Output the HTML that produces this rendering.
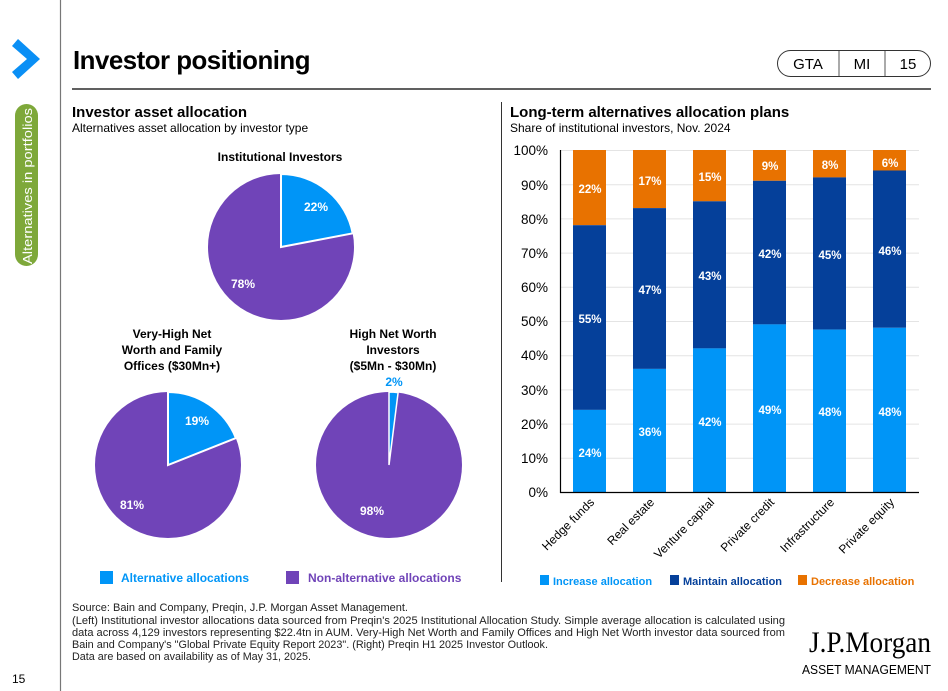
<!DOCTYPE html>
<html><head><meta charset="utf-8"><style>
body{margin:0;width:948px;height:691px;background:#fff;overflow:hidden;font-family:"Liberation Sans",Arial,sans-serif}
svg{display:block}
</style></head><body>
<svg width="948" height="691" viewBox="0 0 948 691" xmlns="http://www.w3.org/2000/svg" font-family="Liberation Sans, Arial, sans-serif">
<line x1="60.5" y1="0" x2="60.5" y2="691" stroke="#777" stroke-width="1.2"/>
<polygon points="12,46 18,39 40,59 18,79 12,72 27,59" fill="#0a8ff5"/>
<rect x="15" y="104" width="23" height="162" rx="11.5" fill="#7ea83a"/>
<text transform="translate(32,264) rotate(-90)" font-size="13" fill="#fff" textLength="156" lengthAdjust="spacingAndGlyphs">Alternatives in portfolios</text>
<text x="12" y="683" font-size="12" fill="#000">15</text>

<text x="73" y="69" font-size="26" fill="#000" font-weight="bold" letter-spacing="-0.5" textLength="237" lengthAdjust="spacingAndGlyphs">Investor positioning</text>
<line x1="72" y1="89" x2="931" y2="89" stroke="#000" stroke-width="1.2"/>
<rect x="777.5" y="50.5" width="153" height="26" rx="13" fill="none" stroke="#333"/>
<line x1="839" y1="51" x2="839" y2="76" stroke="#555"/>
<line x1="885" y1="51" x2="885" y2="76" stroke="#555"/>
<text x="808" y="69" font-size="15" text-anchor="middle">GTA</text>
<text x="862" y="69" font-size="15" text-anchor="middle">MI</text>
<text x="908" y="69" font-size="15" text-anchor="middle">15</text>

<text x="72" y="117" font-size="15" font-weight="bold">Investor asset allocation</text>
<text x="72" y="132" font-size="12">Alternatives asset allocation by investor type</text>
<text x="280" y="161" font-size="12" font-weight="bold" text-anchor="middle">Institutional Investors</text>
<circle cx="281" cy="247" r="73" fill="#7044B8"/>
<path d="M281,247 L281,174 A73,73 0 0 1 352.7,233.3 Z" fill="#0095F7" stroke="#fff" stroke-width="2"/>
<text x="316" y="211" font-size="12" font-weight="bold" fill="#fff" text-anchor="middle">22%</text>
<text x="243" y="288" font-size="12" font-weight="bold" fill="#fff" text-anchor="middle">78%</text>

<g font-size="12" font-weight="bold" text-anchor="middle">
<text x="172" y="338">Very-High Net</text><text x="172" y="354">Worth and Family</text><text x="172" y="370">Offices ($30Mn+)</text>
<text x="393" y="338">High Net Worth</text><text x="393" y="354">Investors</text><text x="393" y="370">($5Mn - $30Mn)</text>
<text x="394" y="386" fill="#0095F7">2%</text>
</g>
<circle cx="168" cy="465" r="73" fill="#7044B8"/>
<path d="M168,465 L168,392 A73,73 0 0 1 235.9,438.1 Z" fill="#0095F7" stroke="#fff" stroke-width="2"/>
<text x="197" y="425" font-size="12" font-weight="bold" fill="#fff" text-anchor="middle">19%</text>
<text x="132" y="509" font-size="12" font-weight="bold" fill="#fff" text-anchor="middle">81%</text>
<circle cx="389" cy="465" r="73" fill="#7044B8"/>
<path d="M389,465 L389,392 A73,73 0 0 1 398.1,392.6 Z" fill="#0095F7" stroke="#fff" stroke-width="1.5"/>
<text x="372" y="515" font-size="12" font-weight="bold" fill="#fff" text-anchor="middle">98%</text>

<rect x="100" y="571" width="13" height="13" fill="#0095F7"/>
<text x="121" y="582" font-size="12" font-weight="bold" fill="#0095F7">Alternative allocations</text>
<rect x="286" y="571" width="13" height="13" fill="#7044B8"/>
<text x="308" y="582" font-size="12" font-weight="bold" fill="#7044B8">Non-alternative allocations</text>

<line x1="501.5" y1="102" x2="501.5" y2="582" stroke="#333"/>
<text x="510" y="117" font-size="15" font-weight="bold">Long-term alternatives allocation plans</text>
<text x="510" y="132" font-size="12">Share of institutional investors, Nov. 2024</text>

<g stroke="#e4e4e4" stroke-width="1">
<line x1="560" y1="150.5" x2="919" y2="150.5"/><line x1="560" y1="184.7" x2="919" y2="184.7"/><line x1="560" y1="218.9" x2="919" y2="218.9"/><line x1="560" y1="253.1" x2="919" y2="253.1"/><line x1="560" y1="287.3" x2="919" y2="287.3"/><line x1="560" y1="321.5" x2="919" y2="321.5"/><line x1="560" y1="355.7" x2="919" y2="355.7"/><line x1="560" y1="389.9" x2="919" y2="389.9"/><line x1="560" y1="424.1" x2="919" y2="424.1"/><line x1="560" y1="458.3" x2="919" y2="458.3"/>
</g>
<g font-size="13.5" text-anchor="end">
<text x="548" y="155">100%</text><text x="548" y="190">90%</text><text x="548" y="224">80%</text><text x="548" y="258">70%</text><text x="548" y="292">60%</text><text x="548" y="326">50%</text><text x="548" y="360">40%</text><text x="548" y="395">30%</text><text x="548" y="429">20%</text><text x="548" y="463">10%</text><text x="548" y="497">0%</text>
</g>
<g>
<rect x="573" y="150" width="33" height="75.2" fill="#E87200"/><rect x="573" y="225.2" width="33" height="184.7" fill="#05409A"/><rect x="573" y="409.9" width="33" height="82.1" fill="#0095F7"/>
<rect x="633" y="150" width="33" height="58.1" fill="#E87200"/><rect x="633" y="208.1" width="33" height="160.8" fill="#05409A"/><rect x="633" y="368.9" width="33" height="123.1" fill="#0095F7"/>
<rect x="693" y="150" width="33" height="51.3" fill="#E87200"/><rect x="693" y="201.3" width="33" height="147.1" fill="#05409A"/><rect x="693" y="348.4" width="33" height="143.6" fill="#0095F7"/>
<rect x="753" y="150" width="33" height="30.8" fill="#E87200"/><rect x="753" y="180.8" width="33" height="143.6" fill="#05409A"/><rect x="753" y="324.4" width="33" height="167.6" fill="#0095F7"/>
<rect x="813" y="150" width="33" height="27.4" fill="#E87200"/><rect x="813" y="177.4" width="33" height="152.2" fill="#05409A"/><rect x="813" y="329.6" width="33" height="162.4" fill="#0095F7"/>
<rect x="873" y="150" width="33" height="20.5" fill="#E87200"/><rect x="873" y="170.5" width="33" height="157.3" fill="#05409A"/><rect x="873" y="327.8" width="33" height="164.2" fill="#0095F7"/>
</g>
<line x1="560.5" y1="150" x2="560.5" y2="493" stroke="#000" stroke-width="1.2"/>
<line x1="560" y1="492.5" x2="919" y2="492.5" stroke="#000" stroke-width="1.2"/>
<g font-size="11.5" font-weight="bold" fill="#fff" text-anchor="middle">
<text x="590" y="193">22%</text><text x="590" y="323">55%</text><text x="590" y="457">24%</text>
<text x="650" y="185">17%</text><text x="650" y="294">47%</text><text x="650" y="436">36%</text>
<text x="710" y="181">15%</text><text x="710" y="280">43%</text><text x="710" y="426">42%</text>
<text x="770" y="170">9%</text><text x="770" y="258">42%</text><text x="770" y="414">49%</text>
<text x="830" y="169">8%</text><text x="830" y="259">45%</text><text x="830" y="416">48%</text>
<text x="890" y="167">6%</text><text x="890" y="255">46%</text><text x="890" y="416">48%</text>
</g>
<g font-size="12" text-anchor="end">
<text transform="translate(595,503) rotate(-45)">Hedge funds</text>
<text transform="translate(655,503) rotate(-45)">Real estate</text>
<text transform="translate(715,503) rotate(-45)">Venture capital</text>
<text transform="translate(775,503) rotate(-45)">Private credit</text>
<text transform="translate(835,503) rotate(-45)">Infrastructure</text>
<text transform="translate(895,503) rotate(-45)">Private equity</text>
</g>
<g font-size="11" font-weight="bold">
<rect x="540" y="575" width="9" height="10" fill="#0095F7"/><text x="553" y="585" fill="#0095F7">Increase allocation</text>
<rect x="670" y="575" width="9" height="10" fill="#05409A"/><text x="683" y="585" fill="#05409A">Maintain allocation</text>
<rect x="798" y="575" width="9" height="10" fill="#E87200"/><text x="811" y="585" fill="#E87200">Decrease allocation</text>
</g>

<g font-size="11" fill="#222" lengthAdjust="spacingAndGlyphs">
<text x="72" y="611" textLength="336" lengthAdjust="spacingAndGlyphs">Source: Bain and Company, Preqin, J.P. Morgan Asset Management.</text>
<text x="72" y="624" textLength="713" lengthAdjust="spacingAndGlyphs">(Left) Institutional investor allocations data sourced from Preqin's 2025 Institutional Allocation Study. Simple average allocation is calculated using</text>
<text x="72" y="636" textLength="713" lengthAdjust="spacingAndGlyphs">data across 4,129 investors representing $22.4tn in AUM. Very-High Net Worth and Family Offices and High Net Worth investor data sourced from</text>
<text x="72" y="648" textLength="476" lengthAdjust="spacingAndGlyphs">Bain and Company's "Global Private Equity Report 2023". (Right) Preqin H1 2025 Investor Outlook.</text>
<text x="72" y="660" textLength="239" lengthAdjust="spacingAndGlyphs">Data are based on availability as of May 31, 2025.</text>
</g>
<text x="931" y="652" font-family="Liberation Serif, serif" font-size="30" text-anchor="end" textLength="122" lengthAdjust="spacingAndGlyphs">J.P.Morgan</text>
<text x="931" y="674" font-size="12.5" text-anchor="end" textLength="129" lengthAdjust="spacingAndGlyphs">ASSET MANAGEMENT</text>
</svg>
</body></html>
